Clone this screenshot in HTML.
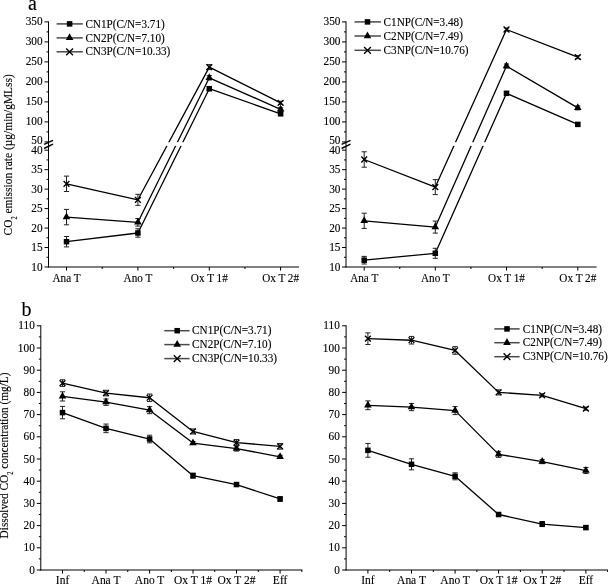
<!DOCTYPE html>
<html lang="en">
<head>
<meta charset="utf-8">
<title>CO2 emission rate and dissolved CO2 concentration</title>
<style>
html,body{margin:0;padding:0;background:#fff;}
body{width:608px;height:585px;overflow:hidden;}
svg{display:block;}
svg text{font-family:"Liberation Serif","Times New Roman",serif;fill:#000;stroke:#000;stroke-width:0.12px;}
</style>
</head>
<body>
<svg width="608" height="585" viewBox="0 0 608 585">
<rect x="0" y="0" width="608" height="585" fill="#fff"/>
<polyline points="66.50,241.70 137.90,233.00 209.30,88.70 280.60,113.80" fill="none" stroke="#000" stroke-width="1.3" stroke-linejoin="round"/>
<polyline points="66.50,217.10 137.90,222.30 209.30,77.80 280.60,109.30" fill="none" stroke="#000" stroke-width="1.3" stroke-linejoin="round"/>
<polyline points="66.50,183.80 137.90,199.80 209.30,67.10 280.60,102.80" fill="none" stroke="#000" stroke-width="1.3" stroke-linejoin="round"/>
<rect x="54.5" y="142.2" width="250.5" height="3.7" fill="#fff"/>
<line x1="66.50" y1="236.50" x2="66.50" y2="246.90" stroke="#222" stroke-width="1.0" />
<line x1="63.90" y1="236.50" x2="69.10" y2="236.50" stroke="#222" stroke-width="1.0" />
<line x1="63.90" y1="246.90" x2="69.10" y2="246.90" stroke="#222" stroke-width="1.0" />
<line x1="137.90" y1="228.80" x2="137.90" y2="237.20" stroke="#222" stroke-width="1.0" />
<line x1="135.30" y1="228.80" x2="140.50" y2="228.80" stroke="#222" stroke-width="1.0" />
<line x1="135.30" y1="237.20" x2="140.50" y2="237.20" stroke="#222" stroke-width="1.0" />
<line x1="209.30" y1="86.70" x2="209.30" y2="90.70" stroke="#222" stroke-width="1.0" />
<line x1="206.70" y1="86.70" x2="211.90" y2="86.70" stroke="#222" stroke-width="1.0" />
<line x1="206.70" y1="90.70" x2="211.90" y2="90.70" stroke="#222" stroke-width="1.0" />
<line x1="280.60" y1="112.30" x2="280.60" y2="115.30" stroke="#222" stroke-width="1.0" />
<line x1="278.00" y1="112.30" x2="283.20" y2="112.30" stroke="#222" stroke-width="1.0" />
<line x1="278.00" y1="115.30" x2="283.20" y2="115.30" stroke="#222" stroke-width="1.0" />
<rect x="63.75" y="238.95" width="5.50" height="5.50" fill="#000"/>
<rect x="135.15" y="230.25" width="5.50" height="5.50" fill="#000"/>
<rect x="206.55" y="85.95" width="5.50" height="5.50" fill="#000"/>
<rect x="277.85" y="111.05" width="5.50" height="5.50" fill="#000"/>
<line x1="66.50" y1="209.40" x2="66.50" y2="224.80" stroke="#222" stroke-width="1.0" />
<line x1="63.90" y1="209.40" x2="69.10" y2="209.40" stroke="#222" stroke-width="1.0" />
<line x1="63.90" y1="224.80" x2="69.10" y2="224.80" stroke="#222" stroke-width="1.0" />
<line x1="137.90" y1="218.50" x2="137.90" y2="226.10" stroke="#222" stroke-width="1.0" />
<line x1="135.30" y1="218.50" x2="140.50" y2="218.50" stroke="#222" stroke-width="1.0" />
<line x1="135.30" y1="226.10" x2="140.50" y2="226.10" stroke="#222" stroke-width="1.0" />
<line x1="209.30" y1="75.60" x2="209.30" y2="80.00" stroke="#222" stroke-width="1.0" />
<line x1="206.70" y1="75.60" x2="211.90" y2="75.60" stroke="#222" stroke-width="1.0" />
<line x1="206.70" y1="80.00" x2="211.90" y2="80.00" stroke="#222" stroke-width="1.0" />
<line x1="280.60" y1="107.80" x2="280.60" y2="110.80" stroke="#222" stroke-width="1.0" />
<line x1="278.00" y1="107.80" x2="283.20" y2="107.80" stroke="#222" stroke-width="1.0" />
<line x1="278.00" y1="110.80" x2="283.20" y2="110.80" stroke="#222" stroke-width="1.0" />
<polygon points="66.50,212.50 62.70,219.30 70.30,219.30" fill="#000"/>
<polygon points="137.90,217.70 134.10,224.50 141.70,224.50" fill="#000"/>
<polygon points="209.30,73.20 205.50,80.00 213.10,80.00" fill="#000"/>
<polygon points="280.60,104.70 276.80,111.50 284.40,111.50" fill="#000"/>
<line x1="66.50" y1="176.10" x2="66.50" y2="191.50" stroke="#222" stroke-width="1.0" />
<line x1="63.90" y1="176.10" x2="69.10" y2="176.10" stroke="#222" stroke-width="1.0" />
<line x1="63.90" y1="191.50" x2="69.10" y2="191.50" stroke="#222" stroke-width="1.0" />
<line x1="137.90" y1="194.30" x2="137.90" y2="205.30" stroke="#222" stroke-width="1.0" />
<line x1="135.30" y1="194.30" x2="140.50" y2="194.30" stroke="#222" stroke-width="1.0" />
<line x1="135.30" y1="205.30" x2="140.50" y2="205.30" stroke="#222" stroke-width="1.0" />
<line x1="209.30" y1="64.60" x2="209.30" y2="69.60" stroke="#222" stroke-width="1.0" />
<line x1="206.70" y1="64.60" x2="211.90" y2="64.60" stroke="#222" stroke-width="1.0" />
<line x1="206.70" y1="69.60" x2="211.90" y2="69.60" stroke="#222" stroke-width="1.0" />
<line x1="280.60" y1="101.30" x2="280.60" y2="104.30" stroke="#222" stroke-width="1.0" />
<line x1="278.00" y1="101.30" x2="283.20" y2="101.30" stroke="#222" stroke-width="1.0" />
<line x1="278.00" y1="104.30" x2="283.20" y2="104.30" stroke="#222" stroke-width="1.0" />
<path d="M63.60 180.90L69.40 186.70M63.60 186.70L69.40 180.90" stroke="#000" stroke-width="1.35" fill="none"/>
<path d="M135.00 196.90L140.80 202.70M135.00 202.70L140.80 196.90" stroke="#000" stroke-width="1.35" fill="none"/>
<path d="M206.40 64.20L212.20 70.00M206.40 70.00L212.20 64.20" stroke="#000" stroke-width="1.35" fill="none"/>
<path d="M277.70 99.90L283.50 105.70M277.70 105.70L283.50 99.90" stroke="#000" stroke-width="1.35" fill="none"/>
<line x1="48.50" y1="21.40" x2="48.50" y2="267.50" stroke="#000" stroke-width="1.0" />
<line x1="48.00" y1="267.00" x2="299.00" y2="267.00" stroke="#000" stroke-width="1.0" />
<line x1="44.50" y1="141.90" x2="48.50" y2="141.90" stroke="#000" stroke-width="1.0" />
<text transform="translate(42.60,144.40) scale(1,1.17)" font-size="11.3" text-anchor="end" >50</text>
<line x1="44.50" y1="121.90" x2="48.50" y2="121.90" stroke="#000" stroke-width="1.0" />
<text transform="translate(42.60,125.40) scale(1,1.17)" font-size="11.3" text-anchor="end" >100</text>
<line x1="44.50" y1="101.90" x2="48.50" y2="101.90" stroke="#000" stroke-width="1.0" />
<text transform="translate(42.60,105.40) scale(1,1.17)" font-size="11.3" text-anchor="end" >150</text>
<line x1="44.50" y1="81.90" x2="48.50" y2="81.90" stroke="#000" stroke-width="1.0" />
<text transform="translate(42.60,85.40) scale(1,1.17)" font-size="11.3" text-anchor="end" >200</text>
<line x1="44.50" y1="61.90" x2="48.50" y2="61.90" stroke="#000" stroke-width="1.0" />
<text transform="translate(42.60,65.40) scale(1,1.17)" font-size="11.3" text-anchor="end" >250</text>
<line x1="44.50" y1="41.90" x2="48.50" y2="41.90" stroke="#000" stroke-width="1.0" />
<text transform="translate(42.60,45.40) scale(1,1.17)" font-size="11.3" text-anchor="end" >300</text>
<line x1="44.50" y1="21.90" x2="48.50" y2="21.90" stroke="#000" stroke-width="1.0" />
<text transform="translate(42.60,25.40) scale(1,1.17)" font-size="11.3" text-anchor="end" >350</text>
<line x1="46.50" y1="131.90" x2="48.50" y2="131.90" stroke="#000" stroke-width="1.0" />
<line x1="46.50" y1="111.90" x2="48.50" y2="111.90" stroke="#000" stroke-width="1.0" />
<line x1="46.50" y1="91.90" x2="48.50" y2="91.90" stroke="#000" stroke-width="1.0" />
<line x1="46.50" y1="71.90" x2="48.50" y2="71.90" stroke="#000" stroke-width="1.0" />
<line x1="46.50" y1="51.90" x2="48.50" y2="51.90" stroke="#000" stroke-width="1.0" />
<line x1="46.50" y1="31.90" x2="48.50" y2="31.90" stroke="#000" stroke-width="1.0" />
<line x1="44.50" y1="267.00" x2="48.50" y2="267.00" stroke="#000" stroke-width="1.0" />
<text transform="translate(42.60,270.50) scale(1,1.17)" font-size="11.3" text-anchor="end" >10</text>
<line x1="44.50" y1="247.53" x2="48.50" y2="247.53" stroke="#000" stroke-width="1.0" />
<text transform="translate(42.60,251.03) scale(1,1.17)" font-size="11.3" text-anchor="end" >15</text>
<line x1="44.50" y1="228.07" x2="48.50" y2="228.07" stroke="#000" stroke-width="1.0" />
<text transform="translate(42.60,231.57) scale(1,1.17)" font-size="11.3" text-anchor="end" >20</text>
<line x1="44.50" y1="208.60" x2="48.50" y2="208.60" stroke="#000" stroke-width="1.0" />
<text transform="translate(42.60,212.10) scale(1,1.17)" font-size="11.3" text-anchor="end" >25</text>
<line x1="44.50" y1="189.13" x2="48.50" y2="189.13" stroke="#000" stroke-width="1.0" />
<text transform="translate(42.60,192.63) scale(1,1.17)" font-size="11.3" text-anchor="end" >30</text>
<line x1="44.50" y1="169.67" x2="48.50" y2="169.67" stroke="#000" stroke-width="1.0" />
<text transform="translate(42.60,173.17) scale(1,1.17)" font-size="11.3" text-anchor="end" >35</text>
<line x1="44.50" y1="150.20" x2="48.50" y2="150.20" stroke="#000" stroke-width="1.0" />
<text transform="translate(42.60,153.50) scale(1,1.17)" font-size="11.3" text-anchor="end" >40</text>
<line x1="46.50" y1="257.27" x2="48.50" y2="257.27" stroke="#000" stroke-width="1.0" />
<line x1="46.50" y1="237.80" x2="48.50" y2="237.80" stroke="#000" stroke-width="1.0" />
<line x1="46.50" y1="218.33" x2="48.50" y2="218.33" stroke="#000" stroke-width="1.0" />
<line x1="46.50" y1="198.87" x2="48.50" y2="198.87" stroke="#000" stroke-width="1.0" />
<line x1="46.50" y1="179.40" x2="48.50" y2="179.40" stroke="#000" stroke-width="1.0" />
<line x1="46.50" y1="159.93" x2="48.50" y2="159.93" stroke="#000" stroke-width="1.0" />
<line x1="44.10" y1="144.40" x2="53.00" y2="140.30" stroke="#000" stroke-width="1.4" />
<line x1="44.10" y1="148.50" x2="53.00" y2="144.20" stroke="#000" stroke-width="1.4" />
<line x1="66.50" y1="267.00" x2="66.50" y2="270.60" stroke="#000" stroke-width="1.0" />
<text transform="translate(66.50,281.80) scale(1,1.17)" font-size="11.2" text-anchor="middle" >Ana T</text>
<line x1="137.90" y1="267.00" x2="137.90" y2="270.60" stroke="#000" stroke-width="1.0" />
<text transform="translate(137.90,281.80) scale(1,1.17)" font-size="11.2" text-anchor="middle" >Ano T</text>
<line x1="209.30" y1="267.00" x2="209.30" y2="270.60" stroke="#000" stroke-width="1.0" />
<text transform="translate(209.30,281.80) scale(1,1.17)" font-size="11.2" text-anchor="middle" >Ox T 1#</text>
<line x1="280.60" y1="267.00" x2="280.60" y2="270.60" stroke="#000" stroke-width="1.0" />
<text transform="translate(280.60,281.80) scale(1,1.17)" font-size="11.2" text-anchor="middle" >Ox T 2#</text>
<line x1="102.20" y1="267.00" x2="102.20" y2="269.00" stroke="#000" stroke-width="1.0" />
<line x1="173.60" y1="267.00" x2="173.60" y2="269.00" stroke="#000" stroke-width="1.0" />
<line x1="244.95" y1="267.00" x2="244.95" y2="269.00" stroke="#000" stroke-width="1.0" />
<line x1="56.60" y1="23.90" x2="82.80" y2="23.90" stroke="#4a4a4a" stroke-width="1.5" />
<rect x="66.85" y="21.15" width="5.50" height="5.50" fill="#000"/>
<text transform="translate(85.40,27.50) scale(1,1.17)" font-size="11.2" text-anchor="start" >CN1P(C/N=3.71)</text>
<line x1="56.60" y1="37.90" x2="82.80" y2="37.90" stroke="#4a4a4a" stroke-width="1.5" />
<polygon points="69.60,33.30 65.80,40.10 73.40,40.10" fill="#000"/>
<text transform="translate(85.40,41.50) scale(1,1.17)" font-size="11.2" text-anchor="start" >CN2P(C/N=7.10)</text>
<line x1="56.60" y1="51.80" x2="82.80" y2="51.80" stroke="#4a4a4a" stroke-width="1.5" />
<path d="M66.20 48.40L73.00 55.20M66.20 55.20L73.00 48.40" stroke="#000" stroke-width="1.35" fill="none"/>
<text transform="translate(85.40,55.40) scale(1,1.17)" font-size="11.2" text-anchor="start" >CN3P(C/N=10.33)</text>
<polyline points="364.20,260.20 435.30,253.30 506.50,93.30 577.80,124.40" fill="none" stroke="#000" stroke-width="1.3" stroke-linejoin="round"/>
<polyline points="364.20,220.80 435.30,227.10 506.50,66.00 577.80,107.90" fill="none" stroke="#000" stroke-width="1.3" stroke-linejoin="round"/>
<polyline points="364.20,159.50 435.30,187.10 506.50,29.50 577.80,57.20" fill="none" stroke="#000" stroke-width="1.3" stroke-linejoin="round"/>
<rect x="352.0" y="142.2" width="250.60000000000002" height="3.7" fill="#fff"/>
<line x1="364.20" y1="256.40" x2="364.20" y2="264.00" stroke="#222" stroke-width="1.0" />
<line x1="361.60" y1="256.40" x2="366.80" y2="256.40" stroke="#222" stroke-width="1.0" />
<line x1="361.60" y1="264.00" x2="366.80" y2="264.00" stroke="#222" stroke-width="1.0" />
<line x1="435.30" y1="248.30" x2="435.30" y2="258.30" stroke="#222" stroke-width="1.0" />
<line x1="432.70" y1="248.30" x2="437.90" y2="248.30" stroke="#222" stroke-width="1.0" />
<line x1="432.70" y1="258.30" x2="437.90" y2="258.30" stroke="#222" stroke-width="1.0" />
<line x1="506.50" y1="91.80" x2="506.50" y2="94.80" stroke="#222" stroke-width="1.0" />
<line x1="503.90" y1="91.80" x2="509.10" y2="91.80" stroke="#222" stroke-width="1.0" />
<line x1="503.90" y1="94.80" x2="509.10" y2="94.80" stroke="#222" stroke-width="1.0" />
<line x1="577.80" y1="122.90" x2="577.80" y2="125.90" stroke="#222" stroke-width="1.0" />
<line x1="575.20" y1="122.90" x2="580.40" y2="122.90" stroke="#222" stroke-width="1.0" />
<line x1="575.20" y1="125.90" x2="580.40" y2="125.90" stroke="#222" stroke-width="1.0" />
<rect x="361.45" y="257.45" width="5.50" height="5.50" fill="#000"/>
<rect x="432.55" y="250.55" width="5.50" height="5.50" fill="#000"/>
<rect x="503.75" y="90.55" width="5.50" height="5.50" fill="#000"/>
<rect x="575.05" y="121.65" width="5.50" height="5.50" fill="#000"/>
<line x1="364.20" y1="213.20" x2="364.20" y2="228.40" stroke="#222" stroke-width="1.0" />
<line x1="361.60" y1="213.20" x2="366.80" y2="213.20" stroke="#222" stroke-width="1.0" />
<line x1="361.60" y1="228.40" x2="366.80" y2="228.40" stroke="#222" stroke-width="1.0" />
<line x1="435.30" y1="221.10" x2="435.30" y2="233.10" stroke="#222" stroke-width="1.0" />
<line x1="432.70" y1="221.10" x2="437.90" y2="221.10" stroke="#222" stroke-width="1.0" />
<line x1="432.70" y1="233.10" x2="437.90" y2="233.10" stroke="#222" stroke-width="1.0" />
<line x1="506.50" y1="64.00" x2="506.50" y2="68.00" stroke="#222" stroke-width="1.0" />
<line x1="503.90" y1="64.00" x2="509.10" y2="64.00" stroke="#222" stroke-width="1.0" />
<line x1="503.90" y1="68.00" x2="509.10" y2="68.00" stroke="#222" stroke-width="1.0" />
<line x1="577.80" y1="105.90" x2="577.80" y2="109.90" stroke="#222" stroke-width="1.0" />
<line x1="575.20" y1="105.90" x2="580.40" y2="105.90" stroke="#222" stroke-width="1.0" />
<line x1="575.20" y1="109.90" x2="580.40" y2="109.90" stroke="#222" stroke-width="1.0" />
<polygon points="364.20,216.20 360.40,223.00 368.00,223.00" fill="#000"/>
<polygon points="435.30,222.50 431.50,229.30 439.10,229.30" fill="#000"/>
<polygon points="506.50,61.40 502.70,68.20 510.30,68.20" fill="#000"/>
<polygon points="577.80,103.30 574.00,110.10 581.60,110.10" fill="#000"/>
<line x1="364.20" y1="151.80" x2="364.20" y2="167.20" stroke="#222" stroke-width="1.0" />
<line x1="361.60" y1="151.80" x2="366.80" y2="151.80" stroke="#222" stroke-width="1.0" />
<line x1="361.60" y1="167.20" x2="366.80" y2="167.20" stroke="#222" stroke-width="1.0" />
<line x1="435.30" y1="179.60" x2="435.30" y2="194.60" stroke="#222" stroke-width="1.0" />
<line x1="432.70" y1="179.60" x2="437.90" y2="179.60" stroke="#222" stroke-width="1.0" />
<line x1="432.70" y1="194.60" x2="437.90" y2="194.60" stroke="#222" stroke-width="1.0" />
<line x1="506.50" y1="28.00" x2="506.50" y2="31.00" stroke="#222" stroke-width="1.0" />
<line x1="503.90" y1="28.00" x2="509.10" y2="28.00" stroke="#222" stroke-width="1.0" />
<line x1="503.90" y1="31.00" x2="509.10" y2="31.00" stroke="#222" stroke-width="1.0" />
<line x1="577.80" y1="55.70" x2="577.80" y2="58.70" stroke="#222" stroke-width="1.0" />
<line x1="575.20" y1="55.70" x2="580.40" y2="55.70" stroke="#222" stroke-width="1.0" />
<line x1="575.20" y1="58.70" x2="580.40" y2="58.70" stroke="#222" stroke-width="1.0" />
<path d="M361.30 156.60L367.10 162.40M361.30 162.40L367.10 156.60" stroke="#000" stroke-width="1.35" fill="none"/>
<path d="M432.40 184.20L438.20 190.00M432.40 190.00L438.20 184.20" stroke="#000" stroke-width="1.35" fill="none"/>
<path d="M503.60 26.60L509.40 32.40M503.60 32.40L509.40 26.60" stroke="#000" stroke-width="1.35" fill="none"/>
<path d="M574.90 54.30L580.70 60.10M574.90 60.10L580.70 54.30" stroke="#000" stroke-width="1.35" fill="none"/>
<line x1="346.00" y1="21.40" x2="346.00" y2="267.50" stroke="#000" stroke-width="1.0" />
<line x1="345.50" y1="267.00" x2="596.60" y2="267.00" stroke="#000" stroke-width="1.0" />
<line x1="342.00" y1="141.90" x2="346.00" y2="141.90" stroke="#000" stroke-width="1.0" />
<text transform="translate(340.50,144.40) scale(1,1.17)" font-size="11.3" text-anchor="end" >50</text>
<line x1="342.00" y1="121.90" x2="346.00" y2="121.90" stroke="#000" stroke-width="1.0" />
<text transform="translate(340.50,125.40) scale(1,1.17)" font-size="11.3" text-anchor="end" >100</text>
<line x1="342.00" y1="101.90" x2="346.00" y2="101.90" stroke="#000" stroke-width="1.0" />
<text transform="translate(340.50,105.40) scale(1,1.17)" font-size="11.3" text-anchor="end" >150</text>
<line x1="342.00" y1="81.90" x2="346.00" y2="81.90" stroke="#000" stroke-width="1.0" />
<text transform="translate(340.50,85.40) scale(1,1.17)" font-size="11.3" text-anchor="end" >200</text>
<line x1="342.00" y1="61.90" x2="346.00" y2="61.90" stroke="#000" stroke-width="1.0" />
<text transform="translate(340.50,65.40) scale(1,1.17)" font-size="11.3" text-anchor="end" >250</text>
<line x1="342.00" y1="41.90" x2="346.00" y2="41.90" stroke="#000" stroke-width="1.0" />
<text transform="translate(340.50,45.40) scale(1,1.17)" font-size="11.3" text-anchor="end" >300</text>
<line x1="342.00" y1="21.90" x2="346.00" y2="21.90" stroke="#000" stroke-width="1.0" />
<text transform="translate(340.50,25.40) scale(1,1.17)" font-size="11.3" text-anchor="end" >350</text>
<line x1="344.00" y1="131.90" x2="346.00" y2="131.90" stroke="#000" stroke-width="1.0" />
<line x1="344.00" y1="111.90" x2="346.00" y2="111.90" stroke="#000" stroke-width="1.0" />
<line x1="344.00" y1="91.90" x2="346.00" y2="91.90" stroke="#000" stroke-width="1.0" />
<line x1="344.00" y1="71.90" x2="346.00" y2="71.90" stroke="#000" stroke-width="1.0" />
<line x1="344.00" y1="51.90" x2="346.00" y2="51.90" stroke="#000" stroke-width="1.0" />
<line x1="344.00" y1="31.90" x2="346.00" y2="31.90" stroke="#000" stroke-width="1.0" />
<line x1="342.00" y1="267.00" x2="346.00" y2="267.00" stroke="#000" stroke-width="1.0" />
<text transform="translate(340.50,270.50) scale(1,1.17)" font-size="11.3" text-anchor="end" >10</text>
<line x1="342.00" y1="247.53" x2="346.00" y2="247.53" stroke="#000" stroke-width="1.0" />
<text transform="translate(340.50,251.03) scale(1,1.17)" font-size="11.3" text-anchor="end" >15</text>
<line x1="342.00" y1="228.07" x2="346.00" y2="228.07" stroke="#000" stroke-width="1.0" />
<text transform="translate(340.50,231.57) scale(1,1.17)" font-size="11.3" text-anchor="end" >20</text>
<line x1="342.00" y1="208.60" x2="346.00" y2="208.60" stroke="#000" stroke-width="1.0" />
<text transform="translate(340.50,212.10) scale(1,1.17)" font-size="11.3" text-anchor="end" >25</text>
<line x1="342.00" y1="189.13" x2="346.00" y2="189.13" stroke="#000" stroke-width="1.0" />
<text transform="translate(340.50,192.63) scale(1,1.17)" font-size="11.3" text-anchor="end" >30</text>
<line x1="342.00" y1="169.67" x2="346.00" y2="169.67" stroke="#000" stroke-width="1.0" />
<text transform="translate(340.50,173.17) scale(1,1.17)" font-size="11.3" text-anchor="end" >35</text>
<line x1="342.00" y1="150.20" x2="346.00" y2="150.20" stroke="#000" stroke-width="1.0" />
<text transform="translate(340.50,153.50) scale(1,1.17)" font-size="11.3" text-anchor="end" >40</text>
<line x1="344.00" y1="257.27" x2="346.00" y2="257.27" stroke="#000" stroke-width="1.0" />
<line x1="344.00" y1="237.80" x2="346.00" y2="237.80" stroke="#000" stroke-width="1.0" />
<line x1="344.00" y1="218.33" x2="346.00" y2="218.33" stroke="#000" stroke-width="1.0" />
<line x1="344.00" y1="198.87" x2="346.00" y2="198.87" stroke="#000" stroke-width="1.0" />
<line x1="344.00" y1="179.40" x2="346.00" y2="179.40" stroke="#000" stroke-width="1.0" />
<line x1="344.00" y1="159.93" x2="346.00" y2="159.93" stroke="#000" stroke-width="1.0" />
<line x1="341.60" y1="144.40" x2="350.50" y2="140.30" stroke="#000" stroke-width="1.4" />
<line x1="341.60" y1="148.50" x2="350.50" y2="144.20" stroke="#000" stroke-width="1.4" />
<line x1="364.20" y1="267.00" x2="364.20" y2="270.60" stroke="#000" stroke-width="1.0" />
<text transform="translate(364.20,281.80) scale(1,1.17)" font-size="11.2" text-anchor="middle" >Ana T</text>
<line x1="435.30" y1="267.00" x2="435.30" y2="270.60" stroke="#000" stroke-width="1.0" />
<text transform="translate(435.30,281.80) scale(1,1.17)" font-size="11.2" text-anchor="middle" >Ano T</text>
<line x1="506.50" y1="267.00" x2="506.50" y2="270.60" stroke="#000" stroke-width="1.0" />
<text transform="translate(506.50,281.80) scale(1,1.17)" font-size="11.2" text-anchor="middle" >Ox T 1#</text>
<line x1="577.80" y1="267.00" x2="577.80" y2="270.60" stroke="#000" stroke-width="1.0" />
<text transform="translate(577.80,281.80) scale(1,1.17)" font-size="11.2" text-anchor="middle" >Ox T 2#</text>
<line x1="399.75" y1="267.00" x2="399.75" y2="269.00" stroke="#000" stroke-width="1.0" />
<line x1="470.90" y1="267.00" x2="470.90" y2="269.00" stroke="#000" stroke-width="1.0" />
<line x1="542.15" y1="267.00" x2="542.15" y2="269.00" stroke="#000" stroke-width="1.0" />
<line x1="354.50" y1="21.90" x2="380.90" y2="21.90" stroke="#4a4a4a" stroke-width="1.5" />
<rect x="364.75" y="19.15" width="5.50" height="5.50" fill="#000"/>
<text transform="translate(383.60,25.50) scale(1,1.17)" font-size="11.2" text-anchor="start" >C1NP(C/N=3.48)</text>
<line x1="354.50" y1="36.00" x2="380.90" y2="36.00" stroke="#4a4a4a" stroke-width="1.5" />
<polygon points="367.50,31.40 363.70,38.20 371.30,38.20" fill="#000"/>
<text transform="translate(383.60,39.60) scale(1,1.17)" font-size="11.2" text-anchor="start" >C2NP(C/N=7.49)</text>
<line x1="354.50" y1="50.30" x2="380.90" y2="50.30" stroke="#4a4a4a" stroke-width="1.5" />
<path d="M364.10 46.90L370.90 53.70M364.10 53.70L370.90 46.90" stroke="#000" stroke-width="1.35" fill="none"/>
<text transform="translate(383.60,53.90) scale(1,1.17)" font-size="11.2" text-anchor="start" >C3NP(C/N=10.76)</text>
<polyline points="62.50,412.60 106.00,428.36 149.60,439.02 193.00,475.65 236.50,484.53 280.10,498.96" fill="none" stroke="#000" stroke-width="1.3" stroke-linejoin="round"/>
<polyline points="62.50,396.40 106.00,402.17 149.60,410.16 193.00,443.02 236.50,448.57 280.10,456.78" fill="none" stroke="#000" stroke-width="1.3" stroke-linejoin="round"/>
<polyline points="62.50,383.08 106.00,393.07 149.60,397.73 193.00,431.47 236.50,442.57 280.10,446.35" fill="none" stroke="#000" stroke-width="1.3" stroke-linejoin="round"/>
<line x1="62.50" y1="406.40" x2="62.50" y2="418.80" stroke="#222" stroke-width="1.0" />
<line x1="59.90" y1="406.40" x2="65.10" y2="406.40" stroke="#222" stroke-width="1.0" />
<line x1="59.90" y1="418.80" x2="65.10" y2="418.80" stroke="#222" stroke-width="1.0" />
<line x1="106.00" y1="424.06" x2="106.00" y2="432.66" stroke="#222" stroke-width="1.0" />
<line x1="103.40" y1="424.06" x2="108.60" y2="424.06" stroke="#222" stroke-width="1.0" />
<line x1="103.40" y1="432.66" x2="108.60" y2="432.66" stroke="#222" stroke-width="1.0" />
<line x1="149.60" y1="435.22" x2="149.60" y2="442.82" stroke="#222" stroke-width="1.0" />
<line x1="147.00" y1="435.22" x2="152.20" y2="435.22" stroke="#222" stroke-width="1.0" />
<line x1="147.00" y1="442.82" x2="152.20" y2="442.82" stroke="#222" stroke-width="1.0" />
<line x1="193.00" y1="473.15" x2="193.00" y2="478.15" stroke="#222" stroke-width="1.0" />
<line x1="190.40" y1="473.15" x2="195.60" y2="473.15" stroke="#222" stroke-width="1.0" />
<line x1="190.40" y1="478.15" x2="195.60" y2="478.15" stroke="#222" stroke-width="1.0" />
<line x1="236.50" y1="483.03" x2="236.50" y2="486.03" stroke="#222" stroke-width="1.0" />
<line x1="233.90" y1="483.03" x2="239.10" y2="483.03" stroke="#222" stroke-width="1.0" />
<line x1="233.90" y1="486.03" x2="239.10" y2="486.03" stroke="#222" stroke-width="1.0" />
<line x1="280.10" y1="496.76" x2="280.10" y2="501.16" stroke="#222" stroke-width="1.0" />
<line x1="277.50" y1="496.76" x2="282.70" y2="496.76" stroke="#222" stroke-width="1.0" />
<line x1="277.50" y1="501.16" x2="282.70" y2="501.16" stroke="#222" stroke-width="1.0" />
<rect x="59.75" y="409.85" width="5.50" height="5.50" fill="#000"/>
<rect x="103.25" y="425.61" width="5.50" height="5.50" fill="#000"/>
<rect x="146.85" y="436.27" width="5.50" height="5.50" fill="#000"/>
<rect x="190.25" y="472.90" width="5.50" height="5.50" fill="#000"/>
<rect x="233.75" y="481.78" width="5.50" height="5.50" fill="#000"/>
<rect x="277.35" y="496.21" width="5.50" height="5.50" fill="#000"/>
<line x1="62.50" y1="391.80" x2="62.50" y2="401.00" stroke="#222" stroke-width="1.0" />
<line x1="59.90" y1="391.80" x2="65.10" y2="391.80" stroke="#222" stroke-width="1.0" />
<line x1="59.90" y1="401.00" x2="65.10" y2="401.00" stroke="#222" stroke-width="1.0" />
<line x1="106.00" y1="398.97" x2="106.00" y2="405.37" stroke="#222" stroke-width="1.0" />
<line x1="103.40" y1="398.97" x2="108.60" y2="398.97" stroke="#222" stroke-width="1.0" />
<line x1="103.40" y1="405.37" x2="108.60" y2="405.37" stroke="#222" stroke-width="1.0" />
<line x1="149.60" y1="406.66" x2="149.60" y2="413.66" stroke="#222" stroke-width="1.0" />
<line x1="147.00" y1="406.66" x2="152.20" y2="406.66" stroke="#222" stroke-width="1.0" />
<line x1="147.00" y1="413.66" x2="152.20" y2="413.66" stroke="#222" stroke-width="1.0" />
<line x1="193.00" y1="441.52" x2="193.00" y2="444.52" stroke="#222" stroke-width="1.0" />
<line x1="190.40" y1="441.52" x2="195.60" y2="441.52" stroke="#222" stroke-width="1.0" />
<line x1="190.40" y1="444.52" x2="195.60" y2="444.52" stroke="#222" stroke-width="1.0" />
<line x1="236.50" y1="446.07" x2="236.50" y2="451.07" stroke="#222" stroke-width="1.0" />
<line x1="233.90" y1="446.07" x2="239.10" y2="446.07" stroke="#222" stroke-width="1.0" />
<line x1="233.90" y1="451.07" x2="239.10" y2="451.07" stroke="#222" stroke-width="1.0" />
<line x1="280.10" y1="455.28" x2="280.10" y2="458.28" stroke="#222" stroke-width="1.0" />
<line x1="277.50" y1="455.28" x2="282.70" y2="455.28" stroke="#222" stroke-width="1.0" />
<line x1="277.50" y1="458.28" x2="282.70" y2="458.28" stroke="#222" stroke-width="1.0" />
<polygon points="62.50,391.80 58.70,398.60 66.30,398.60" fill="#000"/>
<polygon points="106.00,397.57 102.20,404.37 109.80,404.37" fill="#000"/>
<polygon points="149.60,405.56 145.80,412.36 153.40,412.36" fill="#000"/>
<polygon points="193.00,438.42 189.20,445.22 196.80,445.22" fill="#000"/>
<polygon points="236.50,443.97 232.70,450.77 240.30,450.77" fill="#000"/>
<polygon points="280.10,452.18 276.30,458.98 283.90,458.98" fill="#000"/>
<line x1="62.50" y1="379.78" x2="62.50" y2="386.38" stroke="#222" stroke-width="1.0" />
<line x1="59.90" y1="379.78" x2="65.10" y2="379.78" stroke="#222" stroke-width="1.0" />
<line x1="59.90" y1="386.38" x2="65.10" y2="386.38" stroke="#222" stroke-width="1.0" />
<line x1="106.00" y1="390.27" x2="106.00" y2="395.87" stroke="#222" stroke-width="1.0" />
<line x1="103.40" y1="390.27" x2="108.60" y2="390.27" stroke="#222" stroke-width="1.0" />
<line x1="103.40" y1="395.87" x2="108.60" y2="395.87" stroke="#222" stroke-width="1.0" />
<line x1="149.60" y1="394.03" x2="149.60" y2="401.43" stroke="#222" stroke-width="1.0" />
<line x1="147.00" y1="394.03" x2="152.20" y2="394.03" stroke="#222" stroke-width="1.0" />
<line x1="147.00" y1="401.43" x2="152.20" y2="401.43" stroke="#222" stroke-width="1.0" />
<line x1="193.00" y1="428.97" x2="193.00" y2="433.97" stroke="#222" stroke-width="1.0" />
<line x1="190.40" y1="428.97" x2="195.60" y2="428.97" stroke="#222" stroke-width="1.0" />
<line x1="190.40" y1="433.97" x2="195.60" y2="433.97" stroke="#222" stroke-width="1.0" />
<line x1="236.50" y1="439.57" x2="236.50" y2="445.57" stroke="#222" stroke-width="1.0" />
<line x1="233.90" y1="439.57" x2="239.10" y2="439.57" stroke="#222" stroke-width="1.0" />
<line x1="233.90" y1="445.57" x2="239.10" y2="445.57" stroke="#222" stroke-width="1.0" />
<line x1="280.10" y1="443.55" x2="280.10" y2="449.15" stroke="#222" stroke-width="1.0" />
<line x1="277.50" y1="443.55" x2="282.70" y2="443.55" stroke="#222" stroke-width="1.0" />
<line x1="277.50" y1="449.15" x2="282.70" y2="449.15" stroke="#222" stroke-width="1.0" />
<path d="M59.60 380.18L65.40 385.98M59.60 385.98L65.40 380.18" stroke="#000" stroke-width="1.35" fill="none"/>
<path d="M103.10 390.17L108.90 395.97M103.10 395.97L108.90 390.17" stroke="#000" stroke-width="1.35" fill="none"/>
<path d="M146.70 394.83L152.50 400.63M146.70 400.63L152.50 394.83" stroke="#000" stroke-width="1.35" fill="none"/>
<path d="M190.10 428.57L195.90 434.37M190.10 434.37L195.90 428.57" stroke="#000" stroke-width="1.35" fill="none"/>
<path d="M233.60 439.67L239.40 445.47M233.60 445.47L239.40 439.67" stroke="#000" stroke-width="1.35" fill="none"/>
<path d="M277.20 443.45L283.00 449.25M277.20 449.25L283.00 443.45" stroke="#000" stroke-width="1.35" fill="none"/>
<line x1="40.80" y1="325.30" x2="40.80" y2="570.50" stroke="#000" stroke-width="1.0" />
<line x1="40.30" y1="570.00" x2="302.40" y2="570.00" stroke="#000" stroke-width="1.0" />
<line x1="36.80" y1="570.00" x2="40.80" y2="570.00" stroke="#000" stroke-width="1.0" />
<text transform="translate(34.80,573.50) scale(1,1.17)" font-size="11.3" text-anchor="end" >0</text>
<line x1="36.80" y1="547.80" x2="40.80" y2="547.80" stroke="#000" stroke-width="1.0" />
<text transform="translate(34.80,551.30) scale(1,1.17)" font-size="11.3" text-anchor="end" >10</text>
<line x1="36.80" y1="525.60" x2="40.80" y2="525.60" stroke="#000" stroke-width="1.0" />
<text transform="translate(34.80,529.10) scale(1,1.17)" font-size="11.3" text-anchor="end" >20</text>
<line x1="36.80" y1="503.40" x2="40.80" y2="503.40" stroke="#000" stroke-width="1.0" />
<text transform="translate(34.80,506.90) scale(1,1.17)" font-size="11.3" text-anchor="end" >30</text>
<line x1="36.80" y1="481.20" x2="40.80" y2="481.20" stroke="#000" stroke-width="1.0" />
<text transform="translate(34.80,484.70) scale(1,1.17)" font-size="11.3" text-anchor="end" >40</text>
<line x1="36.80" y1="459.00" x2="40.80" y2="459.00" stroke="#000" stroke-width="1.0" />
<text transform="translate(34.80,462.50) scale(1,1.17)" font-size="11.3" text-anchor="end" >50</text>
<line x1="36.80" y1="436.80" x2="40.80" y2="436.80" stroke="#000" stroke-width="1.0" />
<text transform="translate(34.80,440.30) scale(1,1.17)" font-size="11.3" text-anchor="end" >60</text>
<line x1="36.80" y1="414.60" x2="40.80" y2="414.60" stroke="#000" stroke-width="1.0" />
<text transform="translate(34.80,418.10) scale(1,1.17)" font-size="11.3" text-anchor="end" >70</text>
<line x1="36.80" y1="392.40" x2="40.80" y2="392.40" stroke="#000" stroke-width="1.0" />
<text transform="translate(34.80,395.90) scale(1,1.17)" font-size="11.3" text-anchor="end" >80</text>
<line x1="36.80" y1="370.20" x2="40.80" y2="370.20" stroke="#000" stroke-width="1.0" />
<text transform="translate(34.80,373.70) scale(1,1.17)" font-size="11.3" text-anchor="end" >90</text>
<line x1="36.80" y1="348.00" x2="40.80" y2="348.00" stroke="#000" stroke-width="1.0" />
<text transform="translate(34.80,351.50) scale(1,1.17)" font-size="11.3" text-anchor="end" >100</text>
<line x1="36.80" y1="325.80" x2="40.80" y2="325.80" stroke="#000" stroke-width="1.0" />
<text transform="translate(34.80,329.30) scale(1,1.17)" font-size="11.3" text-anchor="end" >110</text>
<line x1="38.80" y1="558.90" x2="40.80" y2="558.90" stroke="#000" stroke-width="1.0" />
<line x1="38.80" y1="536.70" x2="40.80" y2="536.70" stroke="#000" stroke-width="1.0" />
<line x1="38.80" y1="514.50" x2="40.80" y2="514.50" stroke="#000" stroke-width="1.0" />
<line x1="38.80" y1="492.30" x2="40.80" y2="492.30" stroke="#000" stroke-width="1.0" />
<line x1="38.80" y1="470.10" x2="40.80" y2="470.10" stroke="#000" stroke-width="1.0" />
<line x1="38.80" y1="447.90" x2="40.80" y2="447.90" stroke="#000" stroke-width="1.0" />
<line x1="38.80" y1="425.70" x2="40.80" y2="425.70" stroke="#000" stroke-width="1.0" />
<line x1="38.80" y1="403.50" x2="40.80" y2="403.50" stroke="#000" stroke-width="1.0" />
<line x1="38.80" y1="381.30" x2="40.80" y2="381.30" stroke="#000" stroke-width="1.0" />
<line x1="38.80" y1="359.10" x2="40.80" y2="359.10" stroke="#000" stroke-width="1.0" />
<line x1="38.80" y1="336.90" x2="40.80" y2="336.90" stroke="#000" stroke-width="1.0" />
<line x1="62.50" y1="570.00" x2="62.50" y2="573.60" stroke="#000" stroke-width="1.0" />
<text transform="translate(62.50,584.30) scale(1,1.17)" font-size="11.5" text-anchor="middle" >Inf</text>
<line x1="106.00" y1="570.00" x2="106.00" y2="573.60" stroke="#000" stroke-width="1.0" />
<text transform="translate(106.00,584.30) scale(1,1.17)" font-size="11.5" text-anchor="middle" >Ana T</text>
<line x1="149.60" y1="570.00" x2="149.60" y2="573.60" stroke="#000" stroke-width="1.0" />
<text transform="translate(149.60,584.30) scale(1,1.17)" font-size="11.5" text-anchor="middle" >Ano T</text>
<line x1="193.00" y1="570.00" x2="193.00" y2="573.60" stroke="#000" stroke-width="1.0" />
<text transform="translate(193.00,584.30) scale(1,1.17)" font-size="11.5" text-anchor="middle" >Ox T 1#</text>
<line x1="236.50" y1="570.00" x2="236.50" y2="573.60" stroke="#000" stroke-width="1.0" />
<text transform="translate(236.50,584.30) scale(1,1.17)" font-size="11.5" text-anchor="middle" >Ox T 2#</text>
<line x1="280.10" y1="570.00" x2="280.10" y2="573.60" stroke="#000" stroke-width="1.0" />
<text transform="translate(280.10,584.30) scale(1,1.17)" font-size="11.5" text-anchor="middle" >Eff</text>
<line x1="84.25" y1="570.00" x2="84.25" y2="572.00" stroke="#000" stroke-width="1.0" />
<line x1="127.75" y1="570.00" x2="127.75" y2="572.00" stroke="#000" stroke-width="1.0" />
<line x1="171.35" y1="570.00" x2="171.35" y2="572.00" stroke="#000" stroke-width="1.0" />
<line x1="214.75" y1="570.00" x2="214.75" y2="572.00" stroke="#000" stroke-width="1.0" />
<line x1="258.25" y1="570.00" x2="258.25" y2="572.00" stroke="#000" stroke-width="1.0" />
<line x1="301.85" y1="570.00" x2="301.85" y2="572.00" stroke="#000" stroke-width="1.0" />
<line x1="164.30" y1="330.70" x2="189.60" y2="330.70" stroke="#4a4a4a" stroke-width="1.5" />
<rect x="174.45" y="327.95" width="5.50" height="5.50" fill="#000"/>
<text transform="translate(192.10,334.30) scale(1,1.17)" font-size="11.2" text-anchor="start" >CN1P(C/N=3.71)</text>
<line x1="164.30" y1="344.60" x2="189.60" y2="344.60" stroke="#4a4a4a" stroke-width="1.5" />
<polygon points="177.20,340.00 173.40,346.80 181.00,346.80" fill="#000"/>
<text transform="translate(192.10,348.20) scale(1,1.17)" font-size="11.2" text-anchor="start" >CN2P(C/N=7.10)</text>
<line x1="164.30" y1="358.60" x2="189.60" y2="358.60" stroke="#4a4a4a" stroke-width="1.5" />
<path d="M173.80 355.20L180.60 362.00M173.80 362.00L180.60 355.20" stroke="#000" stroke-width="1.35" fill="none"/>
<text transform="translate(192.10,362.20) scale(1,1.17)" font-size="11.2" text-anchor="start" >CN3P(C/N=10.33)</text>
<polyline points="367.90,450.34 411.50,464.33 455.10,476.32 498.60,514.50 542.20,524.05 585.90,527.60" fill="none" stroke="#000" stroke-width="1.3" stroke-linejoin="round"/>
<polyline points="367.90,405.28 411.50,407.05 455.10,410.60 498.60,454.34 542.20,461.66 585.90,470.54" fill="none" stroke="#000" stroke-width="1.3" stroke-linejoin="round"/>
<polyline points="367.90,338.68 411.50,340.23 455.10,350.44 498.60,392.40 542.20,395.29 585.90,408.61" fill="none" stroke="#000" stroke-width="1.3" stroke-linejoin="round"/>
<line x1="367.90" y1="443.44" x2="367.90" y2="457.24" stroke="#222" stroke-width="1.0" />
<line x1="365.30" y1="443.44" x2="370.50" y2="443.44" stroke="#222" stroke-width="1.0" />
<line x1="365.30" y1="457.24" x2="370.50" y2="457.24" stroke="#222" stroke-width="1.0" />
<line x1="411.50" y1="458.83" x2="411.50" y2="469.83" stroke="#222" stroke-width="1.0" />
<line x1="408.90" y1="458.83" x2="414.10" y2="458.83" stroke="#222" stroke-width="1.0" />
<line x1="408.90" y1="469.83" x2="414.10" y2="469.83" stroke="#222" stroke-width="1.0" />
<line x1="455.10" y1="472.82" x2="455.10" y2="479.82" stroke="#222" stroke-width="1.0" />
<line x1="452.50" y1="472.82" x2="457.70" y2="472.82" stroke="#222" stroke-width="1.0" />
<line x1="452.50" y1="479.82" x2="457.70" y2="479.82" stroke="#222" stroke-width="1.0" />
<line x1="498.60" y1="513.00" x2="498.60" y2="516.00" stroke="#222" stroke-width="1.0" />
<line x1="496.00" y1="513.00" x2="501.20" y2="513.00" stroke="#222" stroke-width="1.0" />
<line x1="496.00" y1="516.00" x2="501.20" y2="516.00" stroke="#222" stroke-width="1.0" />
<line x1="542.20" y1="521.55" x2="542.20" y2="526.55" stroke="#222" stroke-width="1.0" />
<line x1="539.60" y1="521.55" x2="544.80" y2="521.55" stroke="#222" stroke-width="1.0" />
<line x1="539.60" y1="526.55" x2="544.80" y2="526.55" stroke="#222" stroke-width="1.0" />
<line x1="585.90" y1="526.10" x2="585.90" y2="529.10" stroke="#222" stroke-width="1.0" />
<line x1="583.30" y1="526.10" x2="588.50" y2="526.10" stroke="#222" stroke-width="1.0" />
<line x1="583.30" y1="529.10" x2="588.50" y2="529.10" stroke="#222" stroke-width="1.0" />
<rect x="365.15" y="447.59" width="5.50" height="5.50" fill="#000"/>
<rect x="408.75" y="461.58" width="5.50" height="5.50" fill="#000"/>
<rect x="452.35" y="473.57" width="5.50" height="5.50" fill="#000"/>
<rect x="495.85" y="511.75" width="5.50" height="5.50" fill="#000"/>
<rect x="539.45" y="521.30" width="5.50" height="5.50" fill="#000"/>
<rect x="583.15" y="524.85" width="5.50" height="5.50" fill="#000"/>
<line x1="367.90" y1="400.88" x2="367.90" y2="409.68" stroke="#222" stroke-width="1.0" />
<line x1="365.30" y1="400.88" x2="370.50" y2="400.88" stroke="#222" stroke-width="1.0" />
<line x1="365.30" y1="409.68" x2="370.50" y2="409.68" stroke="#222" stroke-width="1.0" />
<line x1="411.50" y1="403.45" x2="411.50" y2="410.65" stroke="#222" stroke-width="1.0" />
<line x1="408.90" y1="403.45" x2="414.10" y2="403.45" stroke="#222" stroke-width="1.0" />
<line x1="408.90" y1="410.65" x2="414.10" y2="410.65" stroke="#222" stroke-width="1.0" />
<line x1="455.10" y1="406.60" x2="455.10" y2="414.60" stroke="#222" stroke-width="1.0" />
<line x1="452.50" y1="406.60" x2="457.70" y2="406.60" stroke="#222" stroke-width="1.0" />
<line x1="452.50" y1="414.60" x2="457.70" y2="414.60" stroke="#222" stroke-width="1.0" />
<line x1="498.60" y1="451.34" x2="498.60" y2="457.34" stroke="#222" stroke-width="1.0" />
<line x1="496.00" y1="451.34" x2="501.20" y2="451.34" stroke="#222" stroke-width="1.0" />
<line x1="496.00" y1="457.34" x2="501.20" y2="457.34" stroke="#222" stroke-width="1.0" />
<line x1="542.20" y1="459.66" x2="542.20" y2="463.66" stroke="#222" stroke-width="1.0" />
<line x1="539.60" y1="459.66" x2="544.80" y2="459.66" stroke="#222" stroke-width="1.0" />
<line x1="539.60" y1="463.66" x2="544.80" y2="463.66" stroke="#222" stroke-width="1.0" />
<line x1="585.90" y1="467.54" x2="585.90" y2="473.54" stroke="#222" stroke-width="1.0" />
<line x1="583.30" y1="467.54" x2="588.50" y2="467.54" stroke="#222" stroke-width="1.0" />
<line x1="583.30" y1="473.54" x2="588.50" y2="473.54" stroke="#222" stroke-width="1.0" />
<polygon points="367.90,400.68 364.10,407.48 371.70,407.48" fill="#000"/>
<polygon points="411.50,402.45 407.70,409.25 415.30,409.25" fill="#000"/>
<polygon points="455.10,406.00 451.30,412.80 458.90,412.80" fill="#000"/>
<polygon points="498.60,449.74 494.80,456.54 502.40,456.54" fill="#000"/>
<polygon points="542.20,457.06 538.40,463.86 546.00,463.86" fill="#000"/>
<polygon points="585.90,465.94 582.10,472.74 589.70,472.74" fill="#000"/>
<line x1="367.90" y1="332.88" x2="367.90" y2="344.48" stroke="#222" stroke-width="1.0" />
<line x1="365.30" y1="332.88" x2="370.50" y2="332.88" stroke="#222" stroke-width="1.0" />
<line x1="365.30" y1="344.48" x2="370.50" y2="344.48" stroke="#222" stroke-width="1.0" />
<line x1="411.50" y1="336.43" x2="411.50" y2="344.03" stroke="#222" stroke-width="1.0" />
<line x1="408.90" y1="336.43" x2="414.10" y2="336.43" stroke="#222" stroke-width="1.0" />
<line x1="408.90" y1="344.03" x2="414.10" y2="344.03" stroke="#222" stroke-width="1.0" />
<line x1="455.10" y1="346.64" x2="455.10" y2="354.24" stroke="#222" stroke-width="1.0" />
<line x1="452.50" y1="346.64" x2="457.70" y2="346.64" stroke="#222" stroke-width="1.0" />
<line x1="452.50" y1="354.24" x2="457.70" y2="354.24" stroke="#222" stroke-width="1.0" />
<line x1="498.60" y1="389.90" x2="498.60" y2="394.90" stroke="#222" stroke-width="1.0" />
<line x1="496.00" y1="389.90" x2="501.20" y2="389.90" stroke="#222" stroke-width="1.0" />
<line x1="496.00" y1="394.90" x2="501.20" y2="394.90" stroke="#222" stroke-width="1.0" />
<line x1="542.20" y1="393.79" x2="542.20" y2="396.79" stroke="#222" stroke-width="1.0" />
<line x1="539.60" y1="393.79" x2="544.80" y2="393.79" stroke="#222" stroke-width="1.0" />
<line x1="539.60" y1="396.79" x2="544.80" y2="396.79" stroke="#222" stroke-width="1.0" />
<line x1="585.90" y1="407.11" x2="585.90" y2="410.11" stroke="#222" stroke-width="1.0" />
<line x1="583.30" y1="407.11" x2="588.50" y2="407.11" stroke="#222" stroke-width="1.0" />
<line x1="583.30" y1="410.11" x2="588.50" y2="410.11" stroke="#222" stroke-width="1.0" />
<path d="M365.00 335.78L370.80 341.58M365.00 341.58L370.80 335.78" stroke="#000" stroke-width="1.35" fill="none"/>
<path d="M408.60 337.33L414.40 343.13M408.60 343.13L414.40 337.33" stroke="#000" stroke-width="1.35" fill="none"/>
<path d="M452.20 347.54L458.00 353.34M452.20 353.34L458.00 347.54" stroke="#000" stroke-width="1.35" fill="none"/>
<path d="M495.70 389.50L501.50 395.30M495.70 395.30L501.50 389.50" stroke="#000" stroke-width="1.35" fill="none"/>
<path d="M539.30 392.39L545.10 398.19M539.30 398.19L545.10 392.39" stroke="#000" stroke-width="1.35" fill="none"/>
<path d="M583.00 405.71L588.80 411.51M583.00 411.51L588.80 405.71" stroke="#000" stroke-width="1.35" fill="none"/>
<line x1="346.10" y1="325.30" x2="346.10" y2="570.50" stroke="#000" stroke-width="1.0" />
<line x1="345.60" y1="570.00" x2="608.00" y2="570.00" stroke="#000" stroke-width="1.0" />
<line x1="342.10" y1="570.00" x2="346.10" y2="570.00" stroke="#000" stroke-width="1.0" />
<text transform="translate(339.80,573.50) scale(1,1.17)" font-size="11.3" text-anchor="end" >0</text>
<line x1="342.10" y1="547.80" x2="346.10" y2="547.80" stroke="#000" stroke-width="1.0" />
<text transform="translate(339.80,551.30) scale(1,1.17)" font-size="11.3" text-anchor="end" >10</text>
<line x1="342.10" y1="525.60" x2="346.10" y2="525.60" stroke="#000" stroke-width="1.0" />
<text transform="translate(339.80,529.10) scale(1,1.17)" font-size="11.3" text-anchor="end" >20</text>
<line x1="342.10" y1="503.40" x2="346.10" y2="503.40" stroke="#000" stroke-width="1.0" />
<text transform="translate(339.80,506.90) scale(1,1.17)" font-size="11.3" text-anchor="end" >30</text>
<line x1="342.10" y1="481.20" x2="346.10" y2="481.20" stroke="#000" stroke-width="1.0" />
<text transform="translate(339.80,484.70) scale(1,1.17)" font-size="11.3" text-anchor="end" >40</text>
<line x1="342.10" y1="459.00" x2="346.10" y2="459.00" stroke="#000" stroke-width="1.0" />
<text transform="translate(339.80,462.50) scale(1,1.17)" font-size="11.3" text-anchor="end" >50</text>
<line x1="342.10" y1="436.80" x2="346.10" y2="436.80" stroke="#000" stroke-width="1.0" />
<text transform="translate(339.80,440.30) scale(1,1.17)" font-size="11.3" text-anchor="end" >60</text>
<line x1="342.10" y1="414.60" x2="346.10" y2="414.60" stroke="#000" stroke-width="1.0" />
<text transform="translate(339.80,418.10) scale(1,1.17)" font-size="11.3" text-anchor="end" >70</text>
<line x1="342.10" y1="392.40" x2="346.10" y2="392.40" stroke="#000" stroke-width="1.0" />
<text transform="translate(339.80,395.90) scale(1,1.17)" font-size="11.3" text-anchor="end" >80</text>
<line x1="342.10" y1="370.20" x2="346.10" y2="370.20" stroke="#000" stroke-width="1.0" />
<text transform="translate(339.80,373.70) scale(1,1.17)" font-size="11.3" text-anchor="end" >90</text>
<line x1="342.10" y1="348.00" x2="346.10" y2="348.00" stroke="#000" stroke-width="1.0" />
<text transform="translate(339.80,351.50) scale(1,1.17)" font-size="11.3" text-anchor="end" >100</text>
<line x1="342.10" y1="325.80" x2="346.10" y2="325.80" stroke="#000" stroke-width="1.0" />
<text transform="translate(339.80,329.30) scale(1,1.17)" font-size="11.3" text-anchor="end" >110</text>
<line x1="344.10" y1="558.90" x2="346.10" y2="558.90" stroke="#000" stroke-width="1.0" />
<line x1="344.10" y1="536.70" x2="346.10" y2="536.70" stroke="#000" stroke-width="1.0" />
<line x1="344.10" y1="514.50" x2="346.10" y2="514.50" stroke="#000" stroke-width="1.0" />
<line x1="344.10" y1="492.30" x2="346.10" y2="492.30" stroke="#000" stroke-width="1.0" />
<line x1="344.10" y1="470.10" x2="346.10" y2="470.10" stroke="#000" stroke-width="1.0" />
<line x1="344.10" y1="447.90" x2="346.10" y2="447.90" stroke="#000" stroke-width="1.0" />
<line x1="344.10" y1="425.70" x2="346.10" y2="425.70" stroke="#000" stroke-width="1.0" />
<line x1="344.10" y1="403.50" x2="346.10" y2="403.50" stroke="#000" stroke-width="1.0" />
<line x1="344.10" y1="381.30" x2="346.10" y2="381.30" stroke="#000" stroke-width="1.0" />
<line x1="344.10" y1="359.10" x2="346.10" y2="359.10" stroke="#000" stroke-width="1.0" />
<line x1="344.10" y1="336.90" x2="346.10" y2="336.90" stroke="#000" stroke-width="1.0" />
<line x1="367.90" y1="570.00" x2="367.90" y2="573.60" stroke="#000" stroke-width="1.0" />
<text transform="translate(367.90,584.30) scale(1,1.17)" font-size="11.5" text-anchor="middle" >Inf</text>
<line x1="411.50" y1="570.00" x2="411.50" y2="573.60" stroke="#000" stroke-width="1.0" />
<text transform="translate(411.50,584.30) scale(1,1.17)" font-size="11.5" text-anchor="middle" >Ana T</text>
<line x1="455.10" y1="570.00" x2="455.10" y2="573.60" stroke="#000" stroke-width="1.0" />
<text transform="translate(455.10,584.30) scale(1,1.17)" font-size="11.5" text-anchor="middle" >Ano T</text>
<line x1="498.60" y1="570.00" x2="498.60" y2="573.60" stroke="#000" stroke-width="1.0" />
<text transform="translate(498.60,584.30) scale(1,1.17)" font-size="11.5" text-anchor="middle" >Ox T 1#</text>
<line x1="542.20" y1="570.00" x2="542.20" y2="573.60" stroke="#000" stroke-width="1.0" />
<text transform="translate(542.20,584.30) scale(1,1.17)" font-size="11.5" text-anchor="middle" >Ox T 2#</text>
<line x1="585.90" y1="570.00" x2="585.90" y2="573.60" stroke="#000" stroke-width="1.0" />
<text transform="translate(585.90,584.30) scale(1,1.17)" font-size="11.5" text-anchor="middle" >Eff</text>
<line x1="389.70" y1="570.00" x2="389.70" y2="572.00" stroke="#000" stroke-width="1.0" />
<line x1="433.30" y1="570.00" x2="433.30" y2="572.00" stroke="#000" stroke-width="1.0" />
<line x1="476.90" y1="570.00" x2="476.90" y2="572.00" stroke="#000" stroke-width="1.0" />
<line x1="520.40" y1="570.00" x2="520.40" y2="572.00" stroke="#000" stroke-width="1.0" />
<line x1="564.00" y1="570.00" x2="564.00" y2="572.00" stroke="#000" stroke-width="1.0" />
<line x1="607.70" y1="570.00" x2="607.70" y2="572.00" stroke="#000" stroke-width="1.0" />
<line x1="494.30" y1="328.90" x2="519.60" y2="328.90" stroke="#4a4a4a" stroke-width="1.5" />
<rect x="504.25" y="326.15" width="5.50" height="5.50" fill="#000"/>
<text transform="translate(522.70,332.50) scale(1,1.17)" font-size="11.2" text-anchor="start" >C1NP(C/N=3.48)</text>
<line x1="494.30" y1="342.70" x2="519.60" y2="342.70" stroke="#4a4a4a" stroke-width="1.5" />
<polygon points="507.00,338.10 503.20,344.90 510.80,344.90" fill="#000"/>
<text transform="translate(522.70,346.30) scale(1,1.17)" font-size="11.2" text-anchor="start" >C2NP(C/N=7.49)</text>
<line x1="494.30" y1="356.70" x2="519.60" y2="356.70" stroke="#4a4a4a" stroke-width="1.5" />
<path d="M503.60 353.30L510.40 360.10M503.60 360.10L510.40 353.30" stroke="#000" stroke-width="1.35" fill="none"/>
<text transform="translate(522.70,360.30) scale(1,1.17)" font-size="11.2" text-anchor="start" >C3NP(C/N=10.76)</text>
<text transform="translate(28.00,9.70) scale(1,1.0)" font-size="20" text-anchor="start" >a</text>
<text transform="translate(21.40,316.30) scale(1,1.0)" font-size="20" text-anchor="start" >b</text>
<text transform="translate(12.3,235.5) rotate(-90) scale(1,1.12)" font-size="11.45">CO<tspan font-size="6.4" dy="4.0">2</tspan><tspan dy="-4.0"> emission rate (µg/min/gMLss)</tspan></text>
<text transform="translate(8.1,538.4) rotate(-90) scale(1,1.12)" font-size="11.3">Dissolved CO<tspan font-size="6.4" dy="4.0">2</tspan><tspan dy="-4.0"> concentration (mg/L)</tspan></text>
</svg>
</body>
</html>
